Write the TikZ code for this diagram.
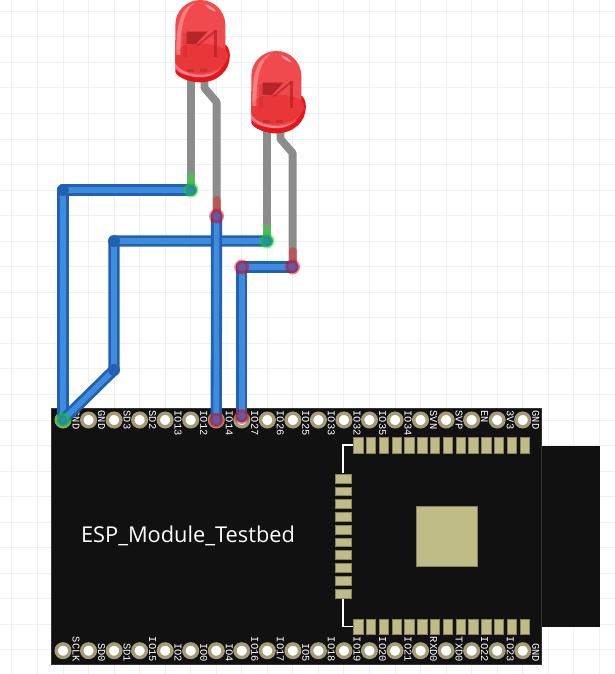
\documentclass[tikz,border=0pt]{standalone}
\usepackage{fontspec}
\setmainfont{Open Sans}
\newfontfamily\pinfont{Liberation Mono}
\definecolor{gridblue}{HTML}{EDF0F5}
\definecolor{boardblack}{HTML}{111111}
\definecolor{padtan}{HTML}{A69B78}
\definecolor{smdtan}{HTML}{BFBC87}
\definecolor{wireedge}{HTML}{2260B2}
\definecolor{wirefill}{HTML}{3E8CDD}
\definecolor{legrey}{HTML}{8C8C8C}
\definecolor{ledflange}{HTML}{E81419}
\definecolor{leddome}{HTML}{F0494E}
\definecolor{ledlower}{HTML}{E93638}
\definecolor{leddark}{HTML}{B52426}
\definecolor{connviolet}{HTML}{6F4F98}
\definecolor{connteal}{HTML}{2C8C9C}
\tikzset{%
  pad/.style={
    circle,
    draw=padtan,
    fill=white,
    line width=3.4pt,
    inner sep=0pt,
    minimum size=13.6pt
  },
  pinlabel/.style={
    text=white,
    inner sep=0pt,
    rotate=-90,
    font=\pinfont\fontsize{10.4}{10.4}\selectfont
  },
  smd/.style={
    fill=smdtan,
    draw=smdtan!70!black,
    line width=0.4pt
  },
  silk/.style={
    draw=white,
    line width=1.6pt
  },
  leg/.style={
    draw=legrey,
    line width=7.8pt,
    line join=round
  },
  wire/.style={
    draw=wireedge,
    double=wirefill,
    double distance=5.6pt,
    line width=2.8pt,
    line cap=round,
    line join=round
  },
  wirebend/.style={
    circle,
    fill=wireedge,
    inner sep=0pt,
    minimum size=12pt
  },
  conn red/.style={
    circle,
    draw=red!90!black,
    draw opacity=0.45,
    fill=connviolet,
    fill opacity=0.85,
    line width=3pt,
    inner sep=0pt,
    minimum size=12pt
  },
  conn green/.style={
    circle,
    draw=green!90!black,
    draw opacity=0.45,
    fill=connteal,
    fill opacity=0.85,
    line width=3pt,
    inner sep=0pt,
    minimum size=12pt
  },
}

\begin{document}
\begin{tikzpicture}[x=1pt, y=-1pt]
\useasboundingbox (0,0) rectangle (615,674);
\fill[white] (0,0) rectangle (615,674);

\foreach \k in {-2,...,21} {
    \draw[gridblue, line width=1pt] ({63+25.54*\k},0) -- ({63+25.54*\k},674);
}
\foreach \k in {-16,...,9} {
    \draw[gridblue, line width=1pt] (0,{420+25.54*\k}) -- (615,{420+25.54*\k});
}

% board
\fill[boardblack] (541,446) rectangle (600,627);
\draw[boardblack!85!white, fill=boardblack, line width=0.8pt] (51,408.5) rectangle (541,664);

\foreach \lab [count=\i from 0] in {GND,GND,SD3,SD2,IO13,IO12,IO14,IO27,IO26,IO25,IO33,IO32,IO35,IO34,SVN,SVP,EN,3V3,GND} {
    \node[pad] (top\i) at ({63+25.54*\i},420) {};
    \node[pinlabel, anchor=west] (toplabel\i) at ({76+25.54*\i},410.5) {\lab};
}
\foreach \lab [count=\i from 0] in {SCLK,SD0,SD1,IO15,IO2,IO0,IO4,IO16,IO17,IO5,IO18,IO19,IO20,IO21,RXD0,TXD0,IO22,IO23,GND} {
    \node[pad] (bottom\i) at ({63+25.54*\i},650.7) {};
    \node[pinlabel, anchor=east] (bottomlabel\i) at ({76+25.54*\i},662) {\lab};
}

\foreach \i in {0,...,13} {
    \draw[smd] ({353.3+12.8*\i},437.3) rectangle ++(9.4,15.4);
    \draw[smd] ({353.3+12.8*\i},618.7) rectangle ++(9.4,15.4);
}
\foreach \i in {0,...,9} {
    \draw[smd] (335.3,{474+12.77*\i}) rectangle ++(15.4,8.8);
}
\draw[smd] (416.3,505.7) rectangle (477,566);
\draw[silk] (343,473) -- (343,445) -- (353,445);
\draw[silk] (343,599) -- (343,626.5) -- (353,626.5);

\node[text=white, font=\fontsize{21.8}{21.8}\selectfont, inner sep=0pt] (boardname) at (188,536) {ESP\_Module\_Testbed};

% leds
\foreach \ledx/\ledy/\ledname in {0/0/one, 76/51/two} {
    \begin{scope}[shift={(\ledx,\ledy)}]
    \draw[leg] (191,70) -- (191,190);
    \draw[leg] (204.5,70) -- (204.5,88) -- (216.6,102) -- (216.6,216);
    \fill[ledflange] (226,45) .. controls (229,48) and (230,52) .. (229.8,56) .. controls (230,70) and (218,82.5) .. (200,82.3) .. controls (190,82.3) and (178,78) .. (175.3,72) -- (175.3,40) -- cycle;
    \fill[leddome] (175.3,25) .. controls (175.3,11) and (186.5,0) .. (200.3,0) .. controls (214,0) and (225.3,11) .. (225.3,25) -- (225.3,62) .. controls (220,72) and (210,78) .. (200,77.5) .. controls (190,77) and (178,73) .. (175.3,64) -- cycle;
    \fill[ledlower] (175.3,55) .. controls (176,48) and (186,43.5) .. (200.3,43.5) .. controls (214,43.5) and (228,48) .. (228,55) .. controls (228,64) and (216,73) .. (200,73.5) .. controls (190,73.5) and (178,70) .. (175.3,62) -- cycle;
    \fill[white, fill opacity=0.35] (175.3,63) .. controls (178,71) and (190,74.5) .. (200,75) .. controls (208,75) and (215,73) .. (221,69) .. controls (214,75) and (207,77) .. (200,77) .. controls (190,77) and (178,74) .. (175.3,68) -- cycle;
    \fill[white, fill opacity=0.3] (176.5,55) .. controls (175.5,20) and (183,6) .. (195,3) .. controls (186,9) and (180,22) .. (180.5,55) -- cycle;
    \fill[white, fill opacity=0.4] (205,4.5) .. controls (208,4.5) and (214,8) .. (216,11.5) .. controls (212,11) and (207,8) .. (205,4.5) -- cycle;
    \fill[leddark, fill opacity=0.25] (183.3,33) rectangle (186.7,56.7);
    \fill[leddark] (186.7,31.7) -- (207.3,31.7) -- (196,44) -- (186.7,44) -- cycle;
    \fill[leddark, fill opacity=0.75] (214,30) rectangle (217.3,56.7);
    \fill[leddark, fill opacity=0.75] (215,30) -- (197,45) -- (198,46) -- (215,32.5) -- cycle;
    \fill[ledlower!70!black, fill opacity=0.45] (187.3,69.5) rectangle (194,72);
    \fill[ledlower!70!black, fill opacity=0.45] (200,69.5) rectangle (207.3,72);
    \draw[green!60!legrey, line width=7.8pt, opacity=0.6] (191,173) -- (191,190);
    \draw[red!75!legrey, line width=7.8pt, opacity=0.5, line cap=round] (216.6,200) -- (216.6,216);
    \coordinate (\ledname cathode) at (191,190);
    \coordinate (\ledname anode) at (216.6,216);
    \end{scope}
}

% wires
\coordinate (gndcorner) at (63,190);
\coordinate (gndbend) at (114,370);
\coordinate (gndcorner two) at (114,241);
\coordinate (iocorner) at (241.7,267);
\coordinate (iopin) at (241.7,416.5);
\draw[wire] (top0.center) -- (gndcorner) -- (onecathode);
\draw[wire] (top0.center) -- (gndbend) -- (gndcorner two) -- (twocathode);
\draw[wire] (top6.center) -- (oneanode);
\draw[wire] (iopin) -- (iocorner) -- (twoanode);
\node[wirebend] (bendone) at (gndcorner) {};
\node[wirebend] (bendtwo) at (gndbend) {};
\node[wirebend] (bendthree) at (gndcorner two) {};

% connectors
\node[conn green] (connone) at (top0) {};
\node[conn green] (conntwo) at (onecathode) {};
\node[conn green] (connthree) at (twocathode) {};
\node[conn red] (connfour) at (top6) {};
\node[conn red] (connfive) at (iopin) {};
\node[conn red] (connsix) at (oneanode) {};
\node[conn red] (connseven) at (iocorner) {};
\node[conn red] (conneight) at (twoanode) {};
\end{tikzpicture}
\end{document}
